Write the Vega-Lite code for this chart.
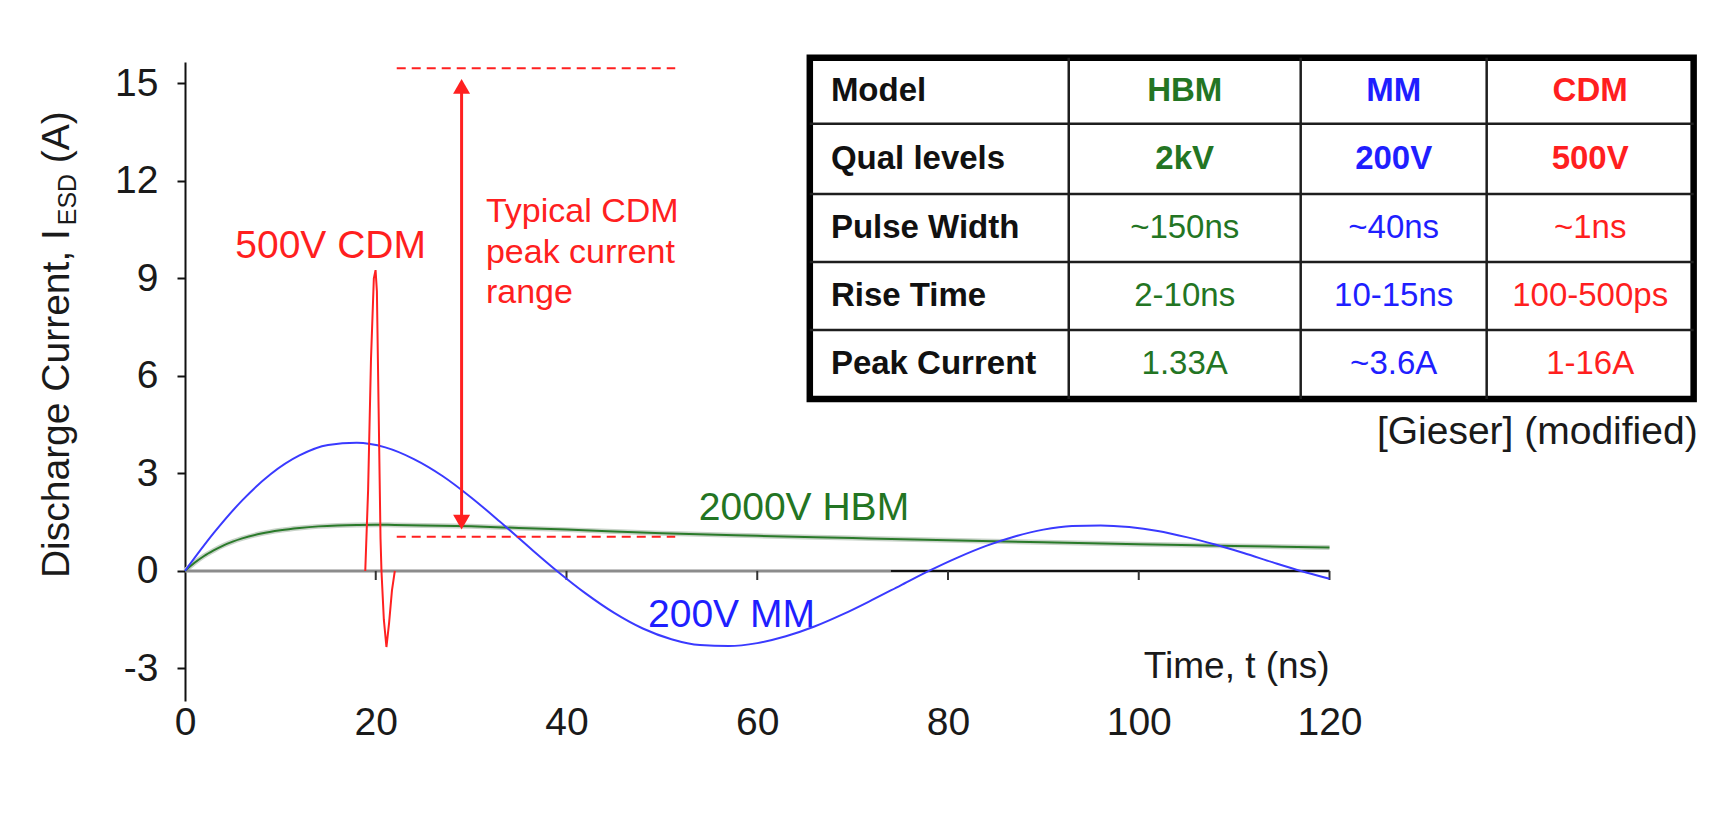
{
  "$schema": "https://vega.github.io/schema/vega-lite/v6.json",
  "width": 1526,
  "height": 639,
  "autosize": {"type": "none"},
  "padding": {"left": 185, "top": 62, "right": 3, "bottom": 138},
  "background": "white",
  "config": {"view": {"stroke": null}, "font": "Liberation Sans", "text": {"font": "Liberation Sans"}},
  "datasets": {
    "curves": [
      {"t": 0, "I": 0, "series": "MM"}, {"t": 3, "I": 1.16, "series": "MM"}, {"t": 6, "I": 2.17, "series": "MM"},
      {"t": 9, "I": 2.98, "series": "MM"}, {"t": 12, "I": 3.55, "series": "MM"}, {"t": 15, "I": 3.87, "series": "MM"},
      {"t": 18, "I": 3.94, "series": "MM"}, {"t": 21, "I": 3.8, "series": "MM"}, {"t": 24, "I": 3.44, "series": "MM"},
      {"t": 27, "I": 2.92, "series": "MM"}, {"t": 30, "I": 2.26, "series": "MM"}, {"t": 33, "I": 1.52, "series": "MM"},
      {"t": 36, "I": 0.75, "series": "MM"}, {"t": 39, "I": 0, "series": "MM"}, {"t": 42, "I": -0.69, "series": "MM"},
      {"t": 45, "I": -1.29, "series": "MM"}, {"t": 48, "I": -1.77, "series": "MM"}, {"t": 51, "I": -2.1, "series": "MM"},
      {"t": 54, "I": -2.28, "series": "MM"}, {"t": 57, "I": -2.31, "series": "MM"}, {"t": 60, "I": -2.22, "series": "MM"},
      {"t": 63, "I": -2.01, "series": "MM"}, {"t": 66, "I": -1.71, "series": "MM"}, {"t": 69, "I": -1.33, "series": "MM"},
      {"t": 72, "I": -0.9, "series": "MM"}, {"t": 75, "I": -0.45, "series": "MM"}, {"t": 78, "I": 0, "series": "MM"},
      {"t": 81, "I": 0.41, "series": "MM"}, {"t": 84, "I": 0.77, "series": "MM"}, {"t": 87, "I": 1.06, "series": "MM"},
      {"t": 90, "I": 1.27, "series": "MM"}, {"t": 93, "I": 1.38, "series": "MM"}, {"t": 96, "I": 1.4, "series": "MM"},
      {"t": 99, "I": 1.35, "series": "MM"}, {"t": 102, "I": 1.23, "series": "MM"}, {"t": 105, "I": 1.04, "series": "MM"},
      {"t": 108, "I": 0.81, "series": "MM"}, {"t": 111, "I": 0.55, "series": "MM"}, {"t": 114, "I": 0.27, "series": "MM"},
      {"t": 117, "I": 0, "series": "MM"}, {"t": 120, "I": -0.24, "series": "MM"},
      {"t": 0, "I": 0, "series": "HBM"}, {"t": 1, "I": 0.25, "series": "HBM"}, {"t": 2, "I": 0.46, "series": "HBM"},
      {"t": 3, "I": 0.63, "series": "HBM"}, {"t": 4, "I": 0.78, "series": "HBM"}, {"t": 5, "I": 0.9, "series": "HBM"},
      {"t": 6, "I": 1.0, "series": "HBM"}, {"t": 8, "I": 1.15, "series": "HBM"}, {"t": 10, "I": 1.25, "series": "HBM"},
      {"t": 12, "I": 1.32, "series": "HBM"}, {"t": 14, "I": 1.37, "series": "HBM"}, {"t": 16, "I": 1.4, "series": "HBM"},
      {"t": 18, "I": 1.415, "series": "HBM"}, {"t": 20, "I": 1.42, "series": "HBM"}, {"t": 22, "I": 1.415, "series": "HBM"},
      {"t": 25, "I": 1.4, "series": "HBM"}, {"t": 30, "I": 1.37, "series": "HBM"}, {"t": 35, "I": 1.32, "series": "HBM"},
      {"t": 40, "I": 1.27, "series": "HBM"}, {"t": 50, "I": 1.16, "series": "HBM"}, {"t": 60, "I": 1.08, "series": "HBM"},
      {"t": 70, "I": 1.01, "series": "HBM"}, {"t": 80, "I": 0.94, "series": "HBM"}, {"t": 90, "I": 0.88, "series": "HBM"},
      {"t": 100, "I": 0.82, "series": "HBM"}, {"t": 110, "I": 0.77, "series": "HBM"}, {"t": 120, "I": 0.72, "series": "HBM"},
      {"t": 18.9, "I": 0, "series": "CDM"}, {"t": 19.2, "I": 2.5, "series": "CDM"}, {"t": 19.5, "I": 6.5, "series": "CDM"},
      {"t": 19.8, "I": 9.0, "series": "CDM"}, {"t": 19.98, "I": 9.25, "series": "CDM"}, {"t": 20.12, "I": 8.6, "series": "CDM"},
      {"t": 20.3, "I": 5.0, "series": "CDM"}, {"t": 20.5, "I": 1.0, "series": "CDM"}, {"t": 20.6, "I": 0, "series": "CDM"},
      {"t": 20.85, "I": -1.5, "series": "CDM"}, {"t": 21.12, "I": -2.34, "series": "CDM"}, {"t": 21.4, "I": -1.6, "series": "CDM"},
      {"t": 21.7, "I": -0.6, "series": "CDM"}, {"t": 22.0, "I": 0, "series": "CDM"}
    ],
    "tableText": [
      {"row": "Model", "series": "label", "text": "Model", "t": 67.72, "I": 14.76},
      {"row": "Model", "series": "HBM", "text": "HBM", "t": 104.82, "I": 14.76},
      {"row": "Model", "series": "MM", "text": "MM", "t": 126.73, "I": 14.76},
      {"row": "Model", "series": "CDM", "text": "CDM", "t": 147.33, "I": 14.76},
      {"row": "Qual levels", "series": "label", "text": "Qual levels", "t": 67.72, "I": 12.67},
      {"row": "Qual levels", "series": "HBM", "text": "2kV", "t": 104.82, "I": 12.67},
      {"row": "Qual levels", "series": "MM", "text": "200V", "t": 126.73, "I": 12.67},
      {"row": "Qual levels", "series": "CDM", "text": "500V", "t": 147.33, "I": 12.67},
      {"row": "Pulse Width", "series": "label", "text": "Pulse Width", "t": 67.72, "I": 10.55},
      {"row": "Pulse Width", "series": "HBM", "text": "~150ns", "t": 104.82, "I": 10.55},
      {"row": "Pulse Width", "series": "MM", "text": "~40ns", "t": 126.73, "I": 10.55},
      {"row": "Pulse Width", "series": "CDM", "text": "~1ns", "t": 147.33, "I": 10.55},
      {"row": "Rise Time", "series": "label", "text": "Rise Time", "t": 67.72, "I": 8.46},
      {"row": "Rise Time", "series": "HBM", "text": "2-10ns", "t": 104.82, "I": 8.46},
      {"row": "Rise Time", "series": "MM", "text": "10-15ns", "t": 126.73, "I": 8.46},
      {"row": "Rise Time", "series": "CDM", "text": "100-500ps", "t": 147.33, "I": 8.46},
      {"row": "Peak Current", "series": "label", "text": "Peak Current", "t": 67.72, "I": 6.35},
      {"row": "Peak Current", "series": "HBM", "text": "1.33A", "t": 104.82, "I": 6.35},
      {"row": "Peak Current", "series": "MM", "text": "~3.6A", "t": 126.73, "I": 6.35},
      {"row": "Peak Current", "series": "CDM", "text": "1-16A", "t": 147.33, "I": 6.35}
    ]
  },
  "layer": [
    {
      "data": {"name": "curves"},
      "transform": [{"filter": "datum.series == 'HBM'"}],
      "mark": {"type": "line", "color": "#c9d3c9", "strokeWidth": 5, "interpolate": "monotone"},
      "encoding": {
        "x": {"field": "t", "type": "quantitative", "title": null,
          "scale": {"domain": [0, 160], "nice": false, "zero": false},
          "axis": {"values": [0, 20, 40, 60, 80, 100, 120], "title": null, "domain": false, "ticks": false, "grid": false,
            "labelFontSize": 39, "labelPadding": 2, "labelColor": "#1a1a1a", "labelFont": "Liberation Sans",
            "labelFlush": false, "labelOverlap": false}},
        "y": {"field": "I", "type": "quantitative", "title": null,
          "scale": {"domain": [-4, 15.65], "nice": false, "zero": false},
          "axis": {"values": [-3, 0, 3, 6, 9, 12, 15], "title": null, "grid": false, "domainColor": "#111111", "domainWidth": 2,
            "tickColor": "#111111", "tickWidth": 2, "tickSize": 8, "labelFontSize": 39, "labelPadding": 19,
            "labelColor": "#1a1a1a", "labelFont": "Liberation Sans", "labelFlush": false, "labelOverlap": false,
            "labelExpr": "'' + datum.value"}}
      }
    },
    {
      "data": {"values": [{"t": 0, "t2": 74}]},
      "mark": {"type": "rule", "color": "#8c8c8c", "strokeWidth": 3},
      "encoding": {"x": {"field": "t", "type": "quantitative", "title": null}, "x2": {"field": "t2"}, "y": {"datum": 0}}
    },
    {
      "data": {"values": [{"t": 74, "t2": 120}]},
      "mark": {"type": "rule", "color": "#111111", "strokeWidth": 2.5},
      "encoding": {"x": {"field": "t", "type": "quantitative", "title": null}, "x2": {"field": "t2"}, "y": {"datum": 0}}
    },
    {
      "data": {"values": [{"t": 20}, {"t": 40}, {"t": 60}, {"t": 80}, {"t": 100}, {"t": 120}]},
      "mark": {"type": "rule", "color": "#333333", "strokeWidth": 2},
      "encoding": {"x": {"field": "t", "type": "quantitative", "title": null}, "y": {"datum": 0}, "y2": {"datum": -0.28}}
    },
    {
      "data": {"name": "curves"},
      "transform": [{"filter": "datum.series == 'HBM'"}],
      "mark": {"type": "line", "color": "#2a7a2a", "strokeWidth": 2, "interpolate": "monotone"},
      "encoding": {"x": {"field": "t", "type": "quantitative", "title": null}, "y": {"field": "I", "type": "quantitative", "title": null}}
    },
    {
      "data": {"name": "curves"},
      "transform": [{"filter": "datum.series == 'MM'"}],
      "mark": {"type": "line", "color": "#3a3aff", "strokeWidth": 2, "interpolate": "monotone"},
      "encoding": {"x": {"field": "t", "type": "quantitative", "title": null}, "y": {"field": "I", "type": "quantitative", "title": null}}
    },
    {
      "data": {"name": "curves"},
      "transform": [{"filter": "datum.series == 'CDM'"}],
      "mark": {"type": "line", "color": "#ff2020", "strokeWidth": 2},
      "encoding": {"x": {"field": "t", "type": "quantitative", "title": null}, "y": {"field": "I", "type": "quantitative", "title": null}}
    },
    {
      "data": {"values": [{"t": 22.2, "t2": 51.4, "I": 15.46}, {"t": 22.2, "t2": 51.4, "I": 1.05}]},
      "mark": {"type": "rule", "color": "#ff2020", "strokeWidth": 2, "strokeDash": [9, 6]},
      "encoding": {"x": {"field": "t", "type": "quantitative", "title": null}, "x2": {"field": "t2"}, "y": {"field": "I", "type": "quantitative", "title": null}}
    },
    {
      "data": {"values": [{"t": 29.0, "I": 1.5, "I2": 14.9}]},
      "mark": {"type": "rule", "color": "#ff2020", "strokeWidth": 3},
      "encoding": {"x": {"field": "t", "type": "quantitative", "title": null}, "y": {"field": "I", "type": "quantitative", "title": null}, "y2": {"field": "I2"}}
    },
    {
      "data": {"values": [{"t": 29.0, "I": 14.9, "dir": "up"}, {"t": 29.0, "I": 1.5, "dir": "down"}]},
      "mark": {"type": "point", "filled": true, "color": "#ff2020", "opacity": 1, "size": 289},
      "encoding": {
        "x": {"field": "t", "type": "quantitative", "title": null},
        "y": {"field": "I", "type": "quantitative", "title": null},
        "shape": {"field": "dir", "type": "nominal", "scale": {"domain": ["up", "down"], "range": ["triangle-up", "triangle-down"]}, "legend": null}
      }
    },
    {
      "data": {"values": [
        {"t": 15.27, "I": 9.62, "text": "500V CDM", "series": "CDM"},
        {"t": 64.9, "I": 1.56, "text": "2000V HBM", "series": "HBM"},
        {"t": 57.3, "I": -1.72, "text": "200V MM", "series": "MM"}
      ]},
      "mark": {"type": "text", "fontSize": 39, "align": "center", "baseline": "alphabetic", "font": "Liberation Sans"},
      "encoding": {
        "x": {"field": "t", "type": "quantitative", "title": null},
        "y": {"field": "I", "type": "quantitative", "title": null},
        "text": {"field": "text"},
        "color": {"field": "series", "type": "nominal", "legend": null,
          "scale": {"domain": ["label", "HBM", "MM", "CDM"], "range": ["#111111", "#237523", "#1f1fff", "#ff1f1f"]}}
      }
    },
    {
      "data": {"values": [{"t": 120, "I": -3.3, "text": "Time, t (ns)"}]},
      "mark": {"type": "text", "fontSize": 37, "align": "right", "baseline": "alphabetic", "color": "#1a1a1a", "font": "Liberation Sans"},
      "encoding": {"x": {"field": "t", "type": "quantitative", "title": null}, "y": {"field": "I", "type": "quantitative", "title": null}, "text": {"field": "text"}}
    },
    {
      "data": {"values": [
        {"t": 31.55, "I": 10.74, "text": "Typical CDM"},
        {"t": 31.55, "I": 9.46, "text": "peak current"},
        {"t": 31.55, "I": 8.23, "text": "range"}
      ]},
      "mark": {"type": "text", "fontSize": 34, "align": "left", "baseline": "alphabetic", "color": "#ff2020", "font": "Liberation Sans"},
      "encoding": {"x": {"field": "t", "type": "quantitative", "title": null}, "y": {"field": "I", "type": "quantitative", "title": null}, "text": {"field": "text"}}
    },
    {
      "data": {"values": [
        {"t": -12.21, "I": -0.22, "text": "Discharge Current, I"},
        {"t": -12.21, "I": 12.54, "text": "(A)"}
      ]},
      "mark": {"type": "text", "fontSize": 39, "angle": 270, "align": "left", "baseline": "alphabetic", "color": "#1a1a1a", "font": "Liberation Sans"},
      "encoding": {"x": {"field": "t", "type": "quantitative", "title": null}, "y": {"field": "I", "type": "quantitative", "title": null}, "text": {"field": "text"}}
    },
    {
      "data": {"values": [{"t": -11.4, "I": 10.63, "text": "ESD"}]},
      "mark": {"type": "text", "fontSize": 25, "angle": 270, "align": "left", "baseline": "alphabetic", "color": "#1a1a1a", "font": "Liberation Sans"},
      "encoding": {"x": {"field": "t", "type": "quantitative", "title": null}, "y": {"field": "I", "type": "quantitative", "title": null}, "text": {"field": "text"}}
    },
    {
      "data": {"values": [{"t": 65.51, "t2": 158.18, "I": 5.286, "I2": 15.778}]},
      "mark": {"type": "rect", "fill": "white", "stroke": "#000000", "strokeWidth": 6.5},
      "encoding": {"x": {"field": "t", "type": "quantitative", "title": null}, "x2": {"field": "t2"}, "y": {"field": "I", "type": "quantitative", "title": null}, "y2": {"field": "I2"}}
    },
    {
      "data": {"values": [{"t": 92.66}, {"t": 116.98}, {"t": 136.48}]},
      "mark": {"type": "rule", "color": "#1e1e1e", "strokeWidth": 2.5},
      "encoding": {"x": {"field": "t", "type": "quantitative", "title": null}, "y": {"datum": 5.286}, "y2": {"datum": 15.778}}
    },
    {
      "data": {"values": [{"I": 13.748}, {"I": 11.594}, {"I": 9.502}, {"I": 7.409}]},
      "mark": {"type": "rule", "color": "#1e1e1e", "strokeWidth": 2.5},
      "encoding": {"y": {"field": "I", "type": "quantitative", "title": null}, "x": {"datum": 65.51}, "x2": {"datum": 158.18}}
    },
    {
      "data": {"name": "tableText"},
      "transform": [{"filter": "datum.series == 'label'"}],
      "mark": {"type": "text", "fontSize": 33, "fontWeight": "bold", "align": "left", "baseline": "middle", "font": "Liberation Sans"},
      "encoding": {
        "x": {"field": "t", "type": "quantitative", "title": null},
        "y": {"field": "I", "type": "quantitative", "title": null},
        "text": {"field": "text"},
        "color": {"field": "series", "type": "nominal", "legend": null}
      }
    },
    {
      "data": {"name": "tableText"},
      "transform": [{"filter": "datum.series != 'label' && (datum.row == 'Model' || datum.row == 'Qual levels')"}],
      "mark": {"type": "text", "fontSize": 33, "fontWeight": "bold", "align": "center", "baseline": "middle", "font": "Liberation Sans"},
      "encoding": {
        "x": {"field": "t", "type": "quantitative", "title": null},
        "y": {"field": "I", "type": "quantitative", "title": null},
        "text": {"field": "text"},
        "color": {"field": "series", "type": "nominal", "legend": null}
      }
    },
    {
      "data": {"name": "tableText"},
      "transform": [{"filter": "datum.series != 'label' && datum.row != 'Model' && datum.row != 'Qual levels'"}],
      "mark": {"type": "text", "fontSize": 33, "align": "center", "baseline": "middle", "font": "Liberation Sans"},
      "encoding": {
        "x": {"field": "t", "type": "quantitative", "title": null},
        "y": {"field": "I", "type": "quantitative", "title": null},
        "text": {"field": "text"},
        "color": {"field": "series", "type": "nominal", "legend": null}
      }
    },
    {
      "data": {"values": [{"t": 158.6, "I": 3.9, "text": "[Gieser] (modified)"}]},
      "mark": {"type": "text", "fontSize": 39, "align": "right", "baseline": "alphabetic", "color": "#1a1a1a", "font": "Liberation Sans"},
      "encoding": {"x": {"field": "t", "type": "quantitative", "title": null}, "y": {"field": "I", "type": "quantitative", "title": null}, "text": {"field": "text"}}
    }
  ]
}
